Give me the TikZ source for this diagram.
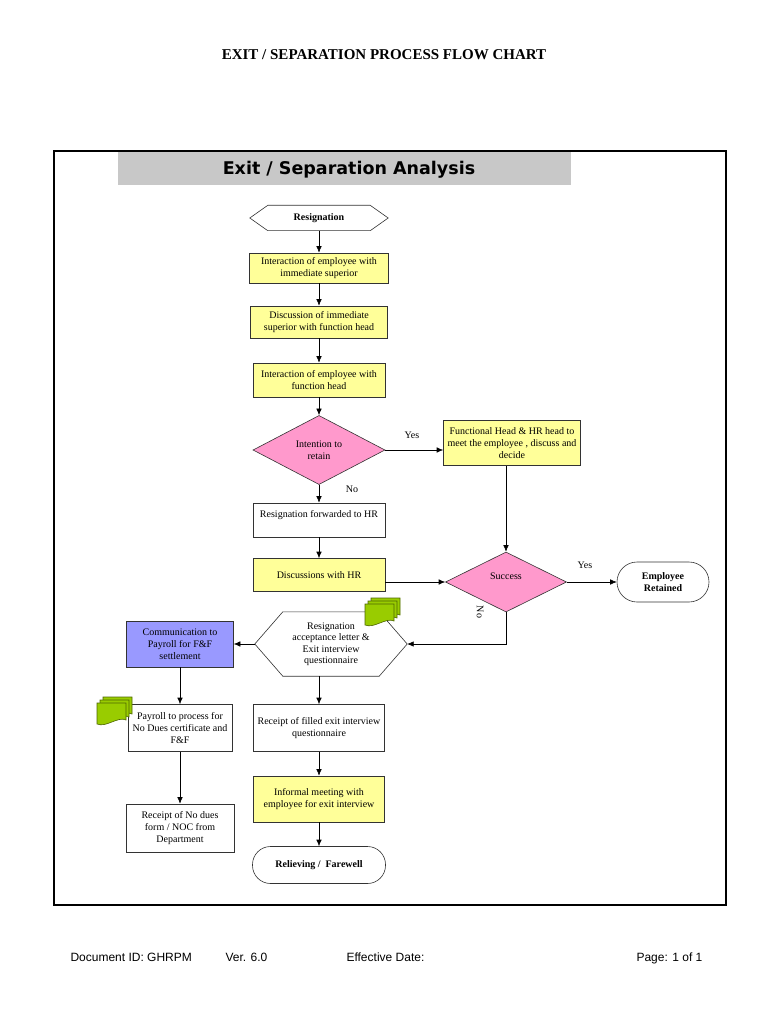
\documentclass[tikz,border=0pt]{standalone}
\usepackage{fontspec}
\setmainfont{Liberation Serif}
\newfontfamily\headfont{DejaVu Sans}
\newfontfamily\footfont{Liberation Sans}
\usetikzlibrary{arrows.meta,shapes.geometric}
\definecolor{boxyellow}{HTML}{FFFF99}
\definecolor{boxpink}{HTML}{FF99CC}
\definecolor{boxblue}{HTML}{9999FF}
\definecolor{headgray}{HTML}{C8C8C8}
\definecolor{docgreen}{HTML}{99CC00}
\definecolor{docedge}{HTML}{4D6600}
\newcommand\boxfont{\fontsize{10}{12}\selectfont}
\newcommand\drawhex[2]{\draw[hex-line] (#1.west) -- ([xshift=#2]#1.north west) -- ([xshift=-#2]#1.north east) -- (#1.east) -- ([xshift=-#2]#1.south east) -- ([xshift=#2]#1.south west) -- cycle;}
\tikzset{
    flow-box/.style = {draw=black!80, line width=0.6pt, rectangle, align=center, font=\boxfont, inner sep=1pt},
    yellow-box/.style = {flow-box, fill=boxyellow},
    white-box/.style = {flow-box, fill=white},
    blue-box/.style = {flow-box, fill=boxblue},
    pink-diamond/.style = {flow-box, diamond, fill=boxpink},
    end-box/.style = {flow-box, rounded corners=18pt, font=\boxfont\bfseries},
    hex-text/.style = {rectangle, align=center, font=\boxfont, inner sep=1pt},
    hex-line/.style = {draw=black!80, line width=0.6pt},
    flow-arrow/.style = {draw=black, line width=0.6pt, -{Latex[length=6.5pt,width=5.5pt]}},
    choice-label/.style = {font=\boxfont},
    foot-text/.style = {anchor=base west, font=\footfont\fontsize{12}{14}\selectfont},
    doc-sheet/.style = {fill=docgreen, draw=docedge, line width=0.6pt},
    doc-stack/.pic = {
        \foreach \d in {6,3,0} {
            \filldraw[doc-sheet, shift={(\d,-\d)}] (0,0) -- (29,0) -- (29,17) .. controls (21,13) and (9,25) .. (0,21) -- cycle;
        }
    },
}

\begin{document}
\begin{tikzpicture}[x=1pt, y=-1pt]
\useasboundingbox (0,0) rectangle (768,1024);
\node[font=\fontsize{15}{18}\selectfont\bfseries] (title) at (384,55) {EXIT / SEPARATION PROCESS FLOW CHART};
\fill[headgray] (118,152) rectangle (571,185);
\draw[line width=2pt] (54,151) rectangle (726,905);
\node[font=\headfont\fontsize{17.5}{20}\selectfont\bfseries] (heading) at (349,170) {Exit / Separation Analysis};

\node[hex-text, minimum width=138pt, minimum height=25pt, font=\boxfont\bfseries] (resign) at (319,218) {Resignation};
\drawhex{resign}{18pt}
\node[yellow-box, minimum width=139pt, minimum height=30pt] (superior) at (319,268) {Interaction of employee with\\immediate superior};
\node[yellow-box, minimum width=137pt, minimum height=32pt] (discuss) at (319,322) {Discussion of immediate\\superior with function head};
\node[yellow-box, minimum width=132pt, minimum height=34pt] (head) at (319,380) {Interaction of employee with\\function head};
\node[pink-diamond, minimum width=132pt, minimum height=60pt] (retain) at (319,450) {Intention to\\retain};
\node[yellow-box, minimum width=137pt, minimum height=45pt] (meethr) at (512,443) {Functional Head \& HR head to\\meet the employee , discuss and\\decide};
\node[white-box, minimum width=132pt, minimum height=34pt] (forward) at (319,520) {Resignation forwarded to HR\\\mbox{}};
\node[yellow-box, minimum width=132pt, minimum height=33pt] (hrtalk) at (319,575) {Discussions with HR};
\node[pink-diamond, minimum width=121pt, minimum height=60pt] (success) at (506,582) {Success\\\mbox{}};
\node[end-box, minimum width=92pt, minimum height=40pt, rounded corners=20pt] (retained) at (663,582) {Employee\\Retained};
\node[hex-text, minimum width=152pt, minimum height=64pt, font=\fontsize{10}{11.5}\selectfont] (accept) at (331,644) {Resignation\\acceptance letter \&\\Exit interview\\questionnaire};
\drawhex{accept}{28pt}
\node[blue-box, minimum width=107pt, minimum height=46pt] (payrollmsg) at (180,644) {Communication to\\Payroll for F\&F\\settlement};
\node[white-box, minimum width=104pt, minimum height=47pt] (payroll) at (180,728) {Payroll to process for\\No Dues certificate and\\F\&F};
\node[white-box, minimum width=108pt, minimum height=48pt] (nodues) at (180,828) {Receipt of No dues\\form / NOC from\\Department};
\node[white-box, minimum width=131pt, minimum height=47pt] (filled) at (319,728) {Receipt of filled exit interview\\questionnaire};
\node[yellow-box, minimum width=131pt, minimum height=46pt] (informal) at (319,799) {Informal meeting with\\employee for exit interview};
\node[end-box, minimum width=133pt, minimum height=37pt] (farewell) at (319,865) {Relieving /\ \ Farewell};

\pic at (365,604) {doc-stack};
\pic at (97,703) {doc-stack};

\draw[flow-arrow] (resign.south) -- (superior.north);
\draw[flow-arrow] (superior.south) -- (discuss.north);
\draw[flow-arrow] (discuss.south) -- (head.north);
\draw[flow-arrow] (head.south) -- (retain.north);
\draw[flow-arrow] (retain.south) -- (forward.north);
\draw[flow-arrow] (retain.east) -- (retain.east -| meethr.west);
\draw[flow-arrow] (forward.south) -- (hrtalk.north);
\draw[flow-arrow] (success.west -| hrtalk.east) -- (success.west);
\draw[flow-arrow] (meethr.south -| success.north) -- (success.north);
\draw[flow-arrow] (success.east) -- (retained.west);
\draw[flow-arrow] (success.south) |- (accept.east);
\draw[flow-arrow] (accept.west) -- (payrollmsg.east);
\draw[flow-arrow] (payrollmsg.south) -- (payroll.north);
\draw[flow-arrow] (payroll.south) -- (nodues.north);
\draw[flow-arrow] (accept.south -| filled.north) -- (filled.north);
\draw[flow-arrow] (filled.south) -- (informal.north);
\draw[flow-arrow] (informal.south) -- (farewell.north);

\node[choice-label] (yes-retain) at (412,435) {Yes};
\node[choice-label] (no-retain) at (352,489) {No};
\node[choice-label] (yes-success) at (585,565) {Yes};
\node[choice-label, rotate=-90] (no-success) at (480,612) {No};

\node[foot-text] (doc-id) at (67,961) {Document ID: GHRPM};
\node[foot-text] (version) at (222,961) {Ver. 6.0};
\node[foot-text] (eff-date) at (343,961) {Effective Date:};
\node[foot-text] (page-no) at (633,961) {Page: 1 of 1};
\end{tikzpicture}
\end{document}
